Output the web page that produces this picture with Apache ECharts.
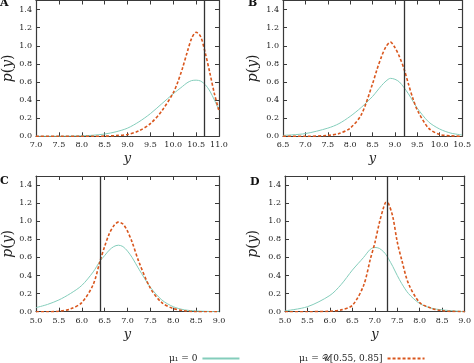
<!DOCTYPE html>
<html>
<head>
<meta charset="utf-8">
<script src="https://cdn.jsdelivr.net/npm/echarts@6/dist/echarts.min.js"></script>
<style>html,body{margin:0;padding:0;background:#fff}#chart{width:474px;height:363px}</style>
</head>
<body>
<div id="chart"></div>
<script>
// panel A
const xA = [7.0, 7.5, 8.0, 8.25, 8.5, 8.75, 9.0, 9.25, 9.5, 9.75, 10.0, 10.1, 10.2, 10.3, 10.4, 10.5, 10.6, 10.7, 10.8, 10.9, 11.0]
const tealA = [0, 0, 0.005, 0.012, 0.025, 0.05, 0.09, 0.16, 0.25, 0.36, 0.47, 0.51, 0.55, 0.59, 0.615, 0.62, 0.61, 0.57, 0.5, 0.4, 0.29]
const orangeA = [0, 0, 0, 0, 0.002, 0.008, 0.02, 0.06, 0.14, 0.28, 0.48, 0.6, 0.75, 0.92, 1.08, 1.15, 1.1, 0.92, 0.7, 0.47, 0.28]
// panel B
const xB = [6.5, 7.0, 7.5, 7.75, 8.0, 8.25, 8.5, 8.6, 8.7, 8.8, 8.9, 9.0, 9.1, 9.2, 9.3, 9.4, 9.5, 9.75, 10.0, 10.25, 10.5]
const tealB = [0.01, 0.03, 0.09, 0.14, 0.22, 0.32, 0.44, 0.5, 0.56, 0.61, 0.64, 0.63, 0.6, 0.54, 0.47, 0.39, 0.31, 0.16, 0.08, 0.035, 0.015]
const orangeB = [0, 0, 0.01, 0.03, 0.09, 0.24, 0.58, 0.74, 0.88, 0.99, 1.04, 0.98, 0.88, 0.75, 0.58, 0.42, 0.29, 0.09, 0.02, 0.005, 0]
// panel C
const xC = [5.0, 5.25, 5.5, 5.75, 6.0, 6.25, 6.4, 6.5, 6.6, 6.7, 6.8, 6.9, 7.0, 7.1, 7.25, 7.5, 7.75, 8.0, 8.25, 8.5, 9.0]
const tealC = [0.045, 0.08, 0.13, 0.2, 0.29, 0.44, 0.56, 0.62, 0.68, 0.72, 0.735, 0.72, 0.67, 0.6, 0.47, 0.27, 0.13, 0.055, 0.02, 0.008, 0]
const orangeC = [0, 0, 0.005, 0.03, 0.1, 0.3, 0.56, 0.72, 0.86, 0.95, 0.99, 0.97, 0.89, 0.77, 0.55, 0.26, 0.1, 0.035, 0.01, 0, 0]
// panel D
const xD = [5.0, 5.5, 6.0, 6.25, 6.5, 6.75, 6.9, 7.0, 7.1, 7.2, 7.25, 7.3, 7.4, 7.5, 7.6, 7.75, 8.0, 8.25, 8.5, 9.0]
const tealD = [0.01, 0.055, 0.18, 0.3, 0.46, 0.6, 0.69, 0.71, 0.7, 0.66, 0.63, 0.59, 0.5, 0.4, 0.31, 0.2, 0.09, 0.04, 0.02, 0]
const orangeD = [0, 0, 0.005, 0.02, 0.07, 0.29, 0.58, 0.76, 0.98, 1.16, 1.21, 1.2, 1.05, 0.77, 0.57, 0.31, 0.1, 0.04, 0.01, 0]

const xRanges = [[7, 11], [6.5, 10.5], [5, 9], [5, 9]]
const vLines = [10.67, 9.2, 6.4, 7.28]
const letters = ['A', 'B', 'C', 'D']
const panels = [[xA, tealA, orangeA], [xB, tealB, orangeB], [xC, tealC, orangeC], [xD, tealD, orangeD]]
const legendNames = {mu0: 'μ₁ = 0', muU: 'μ₁ = 𝒰[0.55, 0.85]'}

const grids = [
  {left: 36, top: 0.5, width: 183, height: 135.8},
  {left: 283, top: 0.5, width: 183, height: 135.8},
  {left: 36, top: 176, width: 183, height: 135.7},
  {left: 285, top: 176, width: 182, height: 135.7}
]
const yNameGap = [21, 23, 21, 25]

const serif = 'DejaVu Serif'
// frame: axes on all four sides, ticks pointing inward
const frame = () => ({show: true, onZero: false, lineStyle: {color: '#3a3a3a', width: 1.2}})
const tick = () => ({show: true, inside: true, length: 4, lineStyle: {color: '#3a3a3a', width: 1}})

const xAxis = [], yAxis = [], series = []
panels.forEach((p, i) => {
  xAxis.push({
    type: 'value', gridIndex: i, position: 'bottom', min: xRanges[i][0], max: xRanges[i][1], interval: 0.5,
    axisLine: frame(), axisTick: tick(), splitLine: {show: false},
    axisLabel: {margin: 5, fontFamily: serif, fontSize: 8, color: '#222', formatter: v => v.toFixed(1)},
    name: 'y', nameLocation: 'middle', nameGap: 16,
    nameTextStyle: {fontFamily: serif, fontStyle: 'italic', fontSize: 13, color: '#222'}
  })
  xAxis.push({
    type: 'value', gridIndex: i, position: 'top', min: xRanges[i][0], max: xRanges[i][1], interval: 0.5,
    axisLine: frame(), axisTick: tick(), axisLabel: {show: false}, splitLine: {show: false}
  })
  yAxis.push({
    type: 'value', gridIndex: i, position: 'left', min: 0, max: 1.5, interval: 0.2,
    axisLine: frame(), axisTick: tick(), splitLine: {show: false},
    axisLabel: {margin: 4, showMaxLabel: false, fontFamily: serif, fontSize: 8, color: '#222', formatter: v => v.toFixed(1)},
    name: '{i|p}{n|(}{i|y}{n|)}', nameLocation: 'middle', nameGap: yNameGap[i],
    nameTextStyle: {
      color: '#222',
      rich: {
        i: {fontFamily: serif, fontStyle: 'italic', fontSize: 14, color: '#222'},
        n: {fontFamily: serif, fontSize: 14, color: '#222'}
      }
    }
  })
  yAxis.push({
    type: 'value', gridIndex: i, position: 'right', min: 0, max: 1.5, interval: 0.2,
    axisLine: frame(), axisTick: tick(), axisLabel: {show: false}, splitLine: {show: false}
  })
  const [xs, teal, orange] = p
  series.push({
    name: 'mu0', type: 'line', xAxisIndex: 2 * i, yAxisIndex: 2 * i,
    data: xs.map((x, k) => [x, teal[k]]), smooth: 0.3, symbol: 'none',
    lineStyle: {color: '#84cdbb', width: 1}, itemStyle: {color: '#84cdbb'}, z: 2
  })
  series.push({
    name: 'muU', type: 'line', xAxisIndex: 2 * i, yAxisIndex: 2 * i,
    data: xs.map((x, k) => [x, orange[k]]), smooth: 0.3, symbol: 'none',
    lineStyle: {color: '#d9561d', width: 1.6, type: [3, 2]}, itemStyle: {color: '#d9561d'}, z: 3,
    markLine: {
      silent: true, symbol: 'none', label: {show: false},
      lineStyle: {color: '#333', width: 1.3, type: 'solid'},
      data: [{xAxis: vLines[i]}]
    }
  })
})

const letterPos = [[0, -2], [248, -2], [0, 176], [250, 177]]
const graphic = letters.map((t, i) => ({
  type: 'text', left: letterPos[i][0], top: letterPos[i][1],
  style: {text: t, font: 'bold 11px "DejaVu Serif"', fill: '#111'}
}))

const legendOpt = (name, left) => ({
  left, top: 349, align: 'right', itemWidth: 37, itemHeight: 10,
  data: [name], itemStyle: {opacity: 0},
  formatter: n => legendNames[n],
  textStyle: {fontFamily: serif, fontSize: 9, color: '#222'}
})

const chart = echarts.init(document.getElementById('chart'))
chart.setOption({
  animation: false,
  grid: grids,
  xAxis, yAxis, series, graphic,
  legend: [legendOpt('mu0', 164), legendOpt('muU', 294)]
})
</script>
</body>
</html>
